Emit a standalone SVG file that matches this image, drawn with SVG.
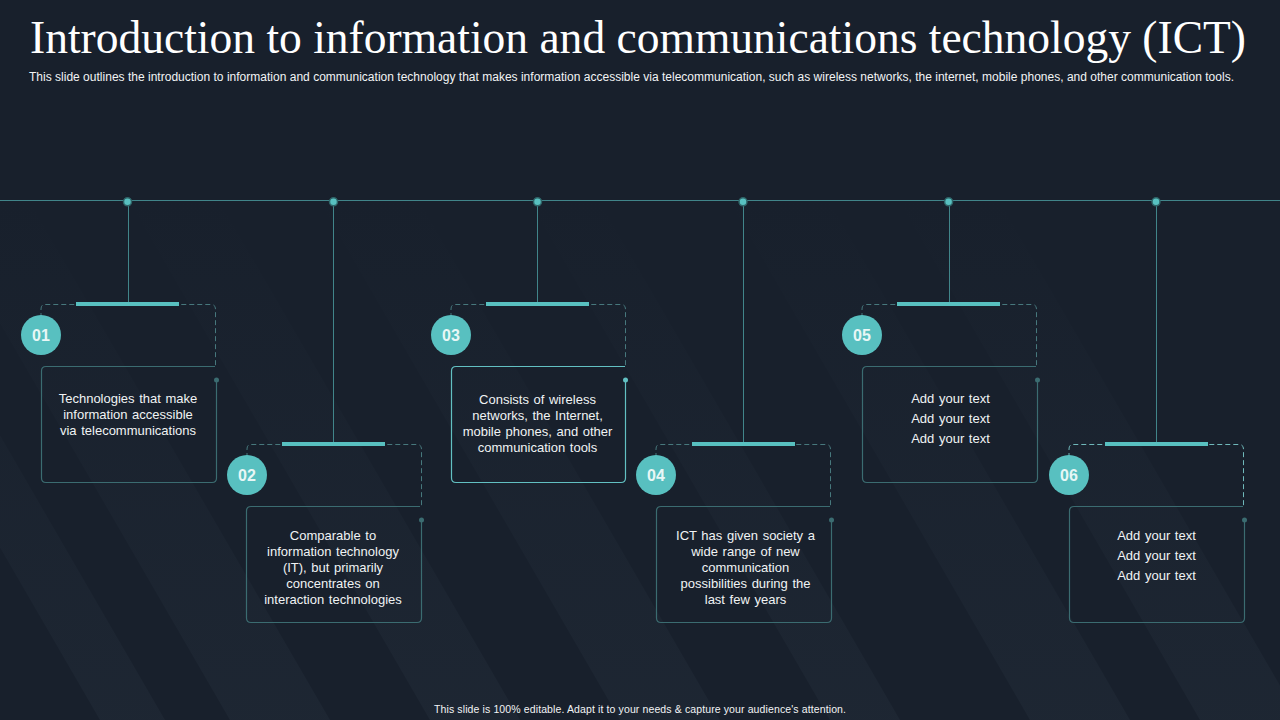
<svg xmlns="http://www.w3.org/2000/svg" width="1280" height="720" viewBox="0 0 1280 720">
<style>
.ttl{font-family:"Liberation Serif",serif;font-size:46px;fill:#fff}
.sub{font-family:"Liberation Sans",Arial,sans-serif;font-size:12px;fill:#f2f4f5}
.foot{font-family:"Liberation Sans",Arial,sans-serif;font-size:10.5px;fill:#f2f4f5}
.txt{font-family:"Liberation Sans",Arial,sans-serif;font-size:13px;word-spacing:1px;fill:#f0f3f4;text-anchor:middle}
.num{font-family:"Liberation Sans",Arial,sans-serif;font-size:16px;font-weight:bold;fill:#e8f7f6;text-anchor:middle}
.circ{fill:#58c0c0}
.bar{fill:#58c0c0}
.dash{fill:none;stroke:#47787d;stroke-width:1;stroke-dasharray:5 3}
.box{fill:none;stroke:#3b6c71;stroke-width:1.2}
.dot{fill:#3b6c71}
.conn{stroke:#41858a;stroke-width:1;fill:none}
.pin{fill:#58c0c0;stroke:#2f6468;stroke-width:1.5}
.hi .box{stroke:#62c0c2}
.hi .dot{fill:#62c0c2}
.hid .dash{stroke:#6fb8ba}
</style>
<defs>
<linearGradient id="fade" gradientUnits="userSpaceOnUse" x1="0" y1="200" x2="0" y2="720">
<stop offset="0" stop-color="#2a3542" stop-opacity="0"/>
<stop offset="1" stop-color="#2a3542" stop-opacity="0.3"/>
</linearGradient>
</defs>
<rect width="1280" height="720" fill="#18202c"/>
<g id="stripes" fill="url(#fade)">
<polygon points="-213,180 -148,180 165,720 100,720"/>
<polygon points="-83,180 17,180 330,720 230,720"/>
<polygon points="117,180 207,180 520,720 430,720"/>
<polygon points="307,180 407,180 720,720 620,720"/>
<polygon points="517,180 587,180 900,720 830,720"/>
<polygon points="717,180 817,180 1130,720 1030,720"/>
<polygon points="887,180 987,180 1300,720 1200,720"/>
</g>
<text class="ttl" x="30" y="53" textLength="1216" lengthAdjust="spacingAndGlyphs">Introduction to information and communications technology (ICT)</text>
<text class="sub" x="29" y="81" textLength="1205" lengthAdjust="spacing">This slide outlines the introduction to information and communication technology that makes information accessible via telecommunication, such as wireless networks, the internet, mobile phones, and other communication tools.</text>
<g id="connectors">
<line class="conn" x1="0" y1="200.500" x2="1280" y2="200.500"/>
<line class="conn" x1="128.500" y1="201" x2="128.500" y2="303"/>
<line class="conn" x1="333.500" y1="201" x2="333.500" y2="443"/>
<line class="conn" x1="537.500" y1="201" x2="537.500" y2="303"/>
<line class="conn" x1="743.500" y1="201" x2="743.500" y2="443"/>
<line class="conn" x1="949.500" y1="201" x2="949.500" y2="303"/>
<line class="conn" x1="1156.500" y1="201" x2="1156.500" y2="443"/>
<circle class="pin" cx="127.500" cy="201.800" r="4"/>
<circle class="pin" cx="333.500" cy="201.800" r="4"/>
<circle class="pin" cx="537.500" cy="201.800" r="4"/>
<circle class="pin" cx="743" cy="201.800" r="4"/>
<circle class="pin" cx="948.600" cy="201.800" r="4"/>
<circle class="pin" cx="1156" cy="201.800" r="4"/>
</g>
<g id="node-01">
<path class="dash" d="M41 318V309Q41 304.500 45 304.500H211Q215.500 304.500 215.500 309V366"/>
<rect class="bar" x="76" y="302" width="103" height="4"/>
<path class="box" d="M216.500 380V478Q216.500 482.500 212 482.500H46Q41.500 482.500 41.500 478V371Q41.500 366.500 46 366.500H215"/>
<circle class="dot" cx="216.500" cy="380" r="2.500"/>
<circle class="circ" cx="41" cy="335" r="20"/>
<text class="num" x="41" y="341">01</text>
<text class="txt" x="128" y="403">Technologies that make</text>
<text class="txt" x="128" y="419">information accessible</text>
<text class="txt" x="128" y="435">via telecommunications</text>
</g>
<g id="node-02" transform="translate(206 140)">
<path class="dash" d="M41 318V309Q41 304.500 45 304.500H211Q215.500 304.500 215.500 309V366"/>
<rect class="bar" x="76" y="302" width="103" height="4"/>
<path class="box" transform="translate(-1 0)" d="M216.500 380V478Q216.500 482.500 212 482.500H46Q41.500 482.500 41.500 478V371Q41.500 366.500 46 366.500H215"/>
<circle class="dot" cx="215.500" cy="380" r="2.500"/>
<circle class="circ" cx="41" cy="335" r="20"/>
<text class="num" x="41" y="341">02</text>
<text class="txt" x="127" y="400">Comparable to</text>
<text class="txt" x="127" y="416">information technology</text>
<text class="txt" x="127" y="432">(IT), but primarily</text>
<text class="txt" x="127" y="448">concentrates on</text>
<text class="txt" x="127" y="464">interaction technologies</text>
</g>
<g id="node-03" class="hi" transform="translate(410 0)">
<path class="dash" d="M41 318V309Q41 304.500 45 304.500H211Q215.500 304.500 215.500 309V366"/>
<rect class="bar" x="76" y="302" width="103" height="4"/>
<path class="box" d="M215.500 380V478Q215.500 482.500 211 482.500H46Q41.500 482.500 41.500 478V371Q41.500 366.500 46 366.500H215"/>
<circle class="dot" cx="215.500" cy="380" r="2.500"/>
<circle class="circ" cx="41" cy="335" r="20"/>
<text class="num" x="41" y="341">03</text>
<text class="txt" x="127.500" y="404">Consists of wireless</text>
<text class="txt" x="127.500" y="420">networks, the Internet,</text>
<text class="txt" x="127.500" y="436">mobile phones, and other</text>
<text class="txt" x="127.500" y="452">communication tools</text>
</g>
<g id="node-04" transform="translate(615 140)">
<path class="dash" d="M41 318V309Q41 304.500 45 304.500H211Q215.500 304.500 215.500 309V366"/>
<rect class="bar" x="77" y="302" width="103" height="4"/>
<path class="box" d="M216.500 380V478Q216.500 482.500 212 482.500H46Q41.500 482.500 41.500 478V371Q41.500 366.500 46 366.500H215"/>
<circle class="dot" cx="216.500" cy="380" r="2.500"/>
<circle class="circ" cx="41" cy="335" r="20"/>
<text class="num" x="41" y="341">04</text>
<text class="txt" x="130.500" y="400">ICT has given society a</text>
<text class="txt" x="130.500" y="416">wide range of new</text>
<text class="txt" x="130.500" y="432">communication</text>
<text class="txt" x="130.500" y="448">possibilities during the</text>
<text class="txt" x="130.500" y="464">last few years</text>
</g>
<g id="node-05" transform="translate(821 0)">
<path class="dash" d="M41 318V309Q41 304.500 45 304.500H211Q215.500 304.500 215.500 309V366"/>
<rect class="bar" x="76" y="302" width="103" height="4"/>
<path class="box" d="M216.500 380V478Q216.500 482.500 212 482.500H46Q41.500 482.500 41.500 478V371Q41.500 366.500 46 366.500H215"/>
<circle class="dot" cx="216.500" cy="380" r="2.500"/>
<circle class="circ" cx="41" cy="335" r="20"/>
<text class="num" x="41" y="341">05</text>
<text class="txt" x="129.500" y="403">Add your text</text>
<text class="txt" x="129.500" y="423">Add your text</text>
<text class="txt" x="129.500" y="443">Add your text</text>
</g>
<g id="node-06" class="hid" transform="translate(1028 140)">
<path class="dash" d="M41 318V309Q41 304.500 45 304.500H211Q215.500 304.500 215.500 309V366"/>
<rect class="bar" x="77" y="302" width="103" height="4"/>
<path class="box" d="M216.500 380V478Q216.500 482.500 212 482.500H46Q41.500 482.500 41.500 478V371Q41.500 366.500 46 366.500H215"/>
<circle class="dot" cx="216.500" cy="380" r="2.500"/>
<circle class="circ" cx="41" cy="335" r="20"/>
<text class="num" x="41" y="341">06</text>
<text class="txt" x="128.500" y="400">Add your text</text>
<text class="txt" x="128.500" y="420">Add your text</text>
<text class="txt" x="128.500" y="440">Add your text</text>
</g>
<text class="foot" x="434" y="713" textLength="412" lengthAdjust="spacing">This slide is 100% editable.  Adapt it to your needs &amp; capture your audience's attention.</text>
</svg>
